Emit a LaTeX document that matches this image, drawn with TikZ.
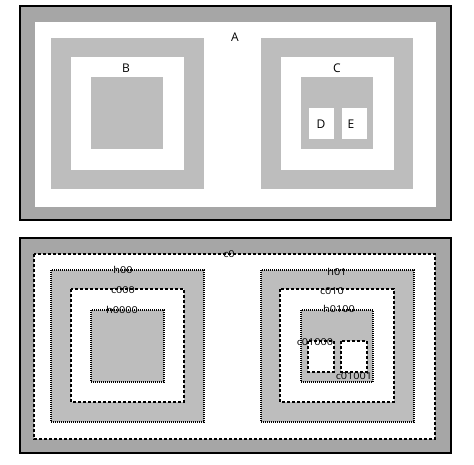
\documentclass[tikz,border=0pt]{standalone}
\usepackage{fontspec}
\setsansfont{Open Sans}
\newfontfamily\treefont[FakeStretch=1.15]{Open Sans}
\definecolor{framegray}{gray}{0.65}
\definecolor{boxgray}{gray}{0.74}
\tikzset{
  panel/.style={fill=framegray, draw=black, line width=1.3pt},
  hole/.style={fill=white},
  solidbox/.style={fill=boxgray},
  contour/.style={draw=black, line width=1.2pt, dash pattern=on 3pt off 2pt},
  hier/.style={draw=black, line width=1.2pt, dash pattern=on 1pt off 1pt},
  regionlabel/.style={font=\sffamily\fontsize{12}{14}\selectfont, inner sep=0pt},
  treelabel/.style={font=\treefont\fontsize{9.5}{11}\selectfont, inner sep=0pt},
}
\begin{document}
\begin{tikzpicture}[x=1pt, y=-1pt]
    \useasboundingbox (0,0) rectangle (474,464);
    % regions
    \draw[panel] (20,6) rectangle (451,220);
    \fill[hole] (35,22) rectangle (436,207);
    \fill[solidbox] (51,38) rectangle (204,189);
    \fill[hole] (71,57) rectangle (184,170);
    \fill[solidbox] (91,77) rectangle (163,149);
    \fill[solidbox] (261,38) rectangle (413,189);
    \fill[hole] (281,57) rectangle (394,170);
    \fill[solidbox] (301,77) rectangle (373,149);
    \fill[hole] (309,108) rectangle (334,139);
    \fill[hole] (342,108) rectangle (367,139);
    \node[regionlabel] (A) at (235,37) {A};
    \node[regionlabel] (B) at (126,68) {B};
    \node[regionlabel] (C) at (337,68) {C};
    \node[regionlabel] (D) at (321,124) {D};
    \node[regionlabel] (E) at (351,124) {E};
    % contours and holes
    \draw[panel] (20,238) rectangle (451,453);
    \path[hole, contour] (34,254) rectangle (435,439);
    \path[solidbox, hier] (51,270) rectangle (204,422);
    \path[hole, contour] (71,289) rectangle (184,402);
    \path[solidbox, hier] (91,310) rectangle (164,382);
    \path[solidbox, hier] (261,270) rectangle (414,422);
    \path[hole, contour] (280,289) rectangle (394,402);
    \path[solidbox, hier] (301,310) rectangle (373,382);
    \path[hole, contour] (308,341) rectangle (334,372);
    \path[hole, contour] (341,341) rectangle (367,372);
    \node[treelabel] (c0) at (229,254) {c0};
    \node[treelabel] (h00) at (123,270) {h00};
    \node[treelabel] (c000) at (123,290) {c000};
    \node[treelabel] (h0000) at (122,310) {h0000};
    \node[treelabel] (h01) at (337,272) {h01};
    \node[treelabel] (c010) at (332,291) {c010};
    \node[treelabel] (h0100) at (339,309) {h0100};
    \node[treelabel] (c01000) at (315,342) {c01000};
    \node[treelabel] (c01001) at (354,376) {c01001};
\end{tikzpicture}
\end{document}
